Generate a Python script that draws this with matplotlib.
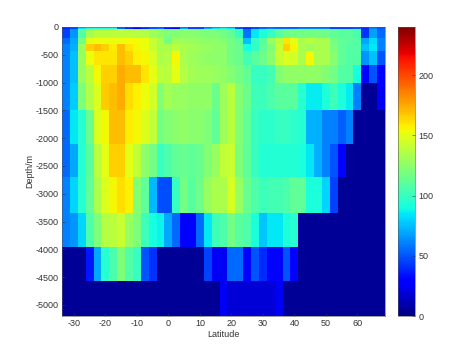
import numpy as np
import matplotlib
matplotlib.use("Agg")
import matplotlib.pyplot as plt

plt.rcParams['font.family'] = ['Liberation Sans', 'DejaVu Sans']

lat_edges = [-33.75 + 2.5 * i for i in range(42)]
depth_edges = [0, 35, 200, 300, 430, 680, 1000, 1500, 2100, 2700, 3350, 3950, 4570, 5200]

row_a = [40,45,85,95,95,95,95,55,40,30,40,50,55,35,30,70,45,45,70,85,90,85,50,40,45,55,60,55,55,55,60,60,60,60,45,45,45,50,40,60,50]
row_b = [45,65,108,132,138,138,138,138,138,136,135,130,126,120,122,124,124,122,120,120,118,112,100,58,85,92,100,110,116,118,118,118,118,116,112,110,110,105,42,68,55]
row_c = [55,70,118,150,152,152,152,152,154,154,152,142,134,118,130,130,128,126,125,125,122,118,112,75,98,110,130,138,160,150,134,138,134,134,118,112,110,108,70,82,60]
row_d = [60,72,128,165,170,165,158,170,160,155,152,142,134,134,138,134,132,130,128,126,125,118,115,90,98,112,122,142,165,155,134,130,134,134,120,112,108,108,75,85,60]
row_e = [60,75,128,152,160,160,160,170,165,157,155,147,134,136,155,134,130,128,126,125,125,118,115,104,110,116,124,142,148,145,134,155,134,134,124,112,108,108,65,75,50]
row_f = [60,75,128,138,155,165,165,175,170,170,160,150,138,138,150,136,132,130,130,128,126,122,118,112,100,100,104,122,126,126,126,126,126,122,118,108,108,90,30,50,30]
row_g = [60,78,120,135,148,166,170,175,162,157,152,145,122,132,128,128,126,126,126,115,130,138,122,115,102,102,106,110,110,110,96,86,86,92,102,92,86,60,5,5,25]
row_h = [55,85,95,115,148,155,170,170,158,155,148,140,118,122,124,126,124,124,120,112,130,138,122,112,100,97,97,100,100,97,95,72,72,60,60,52,60,5,5,5,5]
row_i = [55,70,95,110,138,150,165,165,150,140,125,118,100,106,112,114,112,114,122,128,140,142,120,112,100,94,94,94,94,94,92,85,72,60,50,30,5,5,5,5,5]
row_j = [60,80,95,112,134,148,155,162,157,122,112,74,48,48,100,118,110,116,128,134,134,147,128,114,106,102,104,104,106,112,112,92,92,80,45,5,5,5,5,5,5]
row_k = [60,65,80,106,120,136,138,142,128,120,102,90,88,70,55,28,28,55,85,102,106,118,110,106,92,76,85,85,92,95,5,5,5,5,5,5,5,5,5,5,5]
row_l = [5,5,5,35,70,95,105,120,108,100,50,42,5,5,5,5,5,5,45,25,25,55,55,30,50,40,30,30,50,30,5,5,5,5,5,5,5,5,5,5,5]
row_m = [5,5,5,5,5,5,5,5,5,5,5,5,5,5,5,5,5,5,5,5,25,18,18,18,18,18,18,25,5,5,5,5,5,5,5,5,5,5,5,5,5]
values = np.array([row_a,row_b,row_c,row_d,row_e,row_f,row_g,row_h,row_i,row_j,row_k,row_l,row_m], float)

x_ticks = [-30,-20,-10,0,10,20,30,40,50,60]
y_ticks = [0,-500,-1000,-1500,-2000,-2500,-3000,-3500,-4000,-4500,-5000]
cbar_ticks = [0,50,100,150,200]
vmin, vmax = 0, 240
text_col = '#333333'

W, H = 474, 355
fig = plt.figure(figsize=(W/100, H/100), dpi=100)
ax = fig.add_axes([62/W, 1-316/H, 323/W, 289/H])
m = ax.pcolormesh(lat_edges, -np.array(depth_edges), values, cmap='jet', vmin=vmin, vmax=vmax,
                  shading='flat', linewidth=0, rasterized=True)
ax.set_xlim(lat_edges[0], lat_edges[-1])
ax.set_ylim(-5200, 0)
ax.set_xticks(x_ticks)
ax.set_xticklabels([str(t) for t in x_ticks])
ax.set_yticks(y_ticks)
ax.set_yticklabels([str(t) for t in y_ticks])
ax.tick_params(direction='in', length=2.5, width=0.4, labelsize=6.5, colors=text_col, pad=2.5)
ax.set_xlabel('Latitude', fontsize=6.5, color=text_col, labelpad=1)
ax.set_ylabel('Depth/m', fontsize=6.5, color=text_col, labelpad=1)
for s in ax.spines.values():
    s.set_linewidth(0.4); s.set_color('#555555')

cax = fig.add_axes([398/W, 1-316/H, 17/W, 289/H])
cb = fig.colorbar(m, cax=cax, ticks=cbar_ticks)
cb.ax.tick_params(direction='in', length=2.5, width=0.4, labelsize=6.5, colors=text_col, pad=2.5)
cb.outline.set_linewidth(0.4); cb.outline.set_edgecolor('#555555')
fig.savefig('out.png', dpi=100)
